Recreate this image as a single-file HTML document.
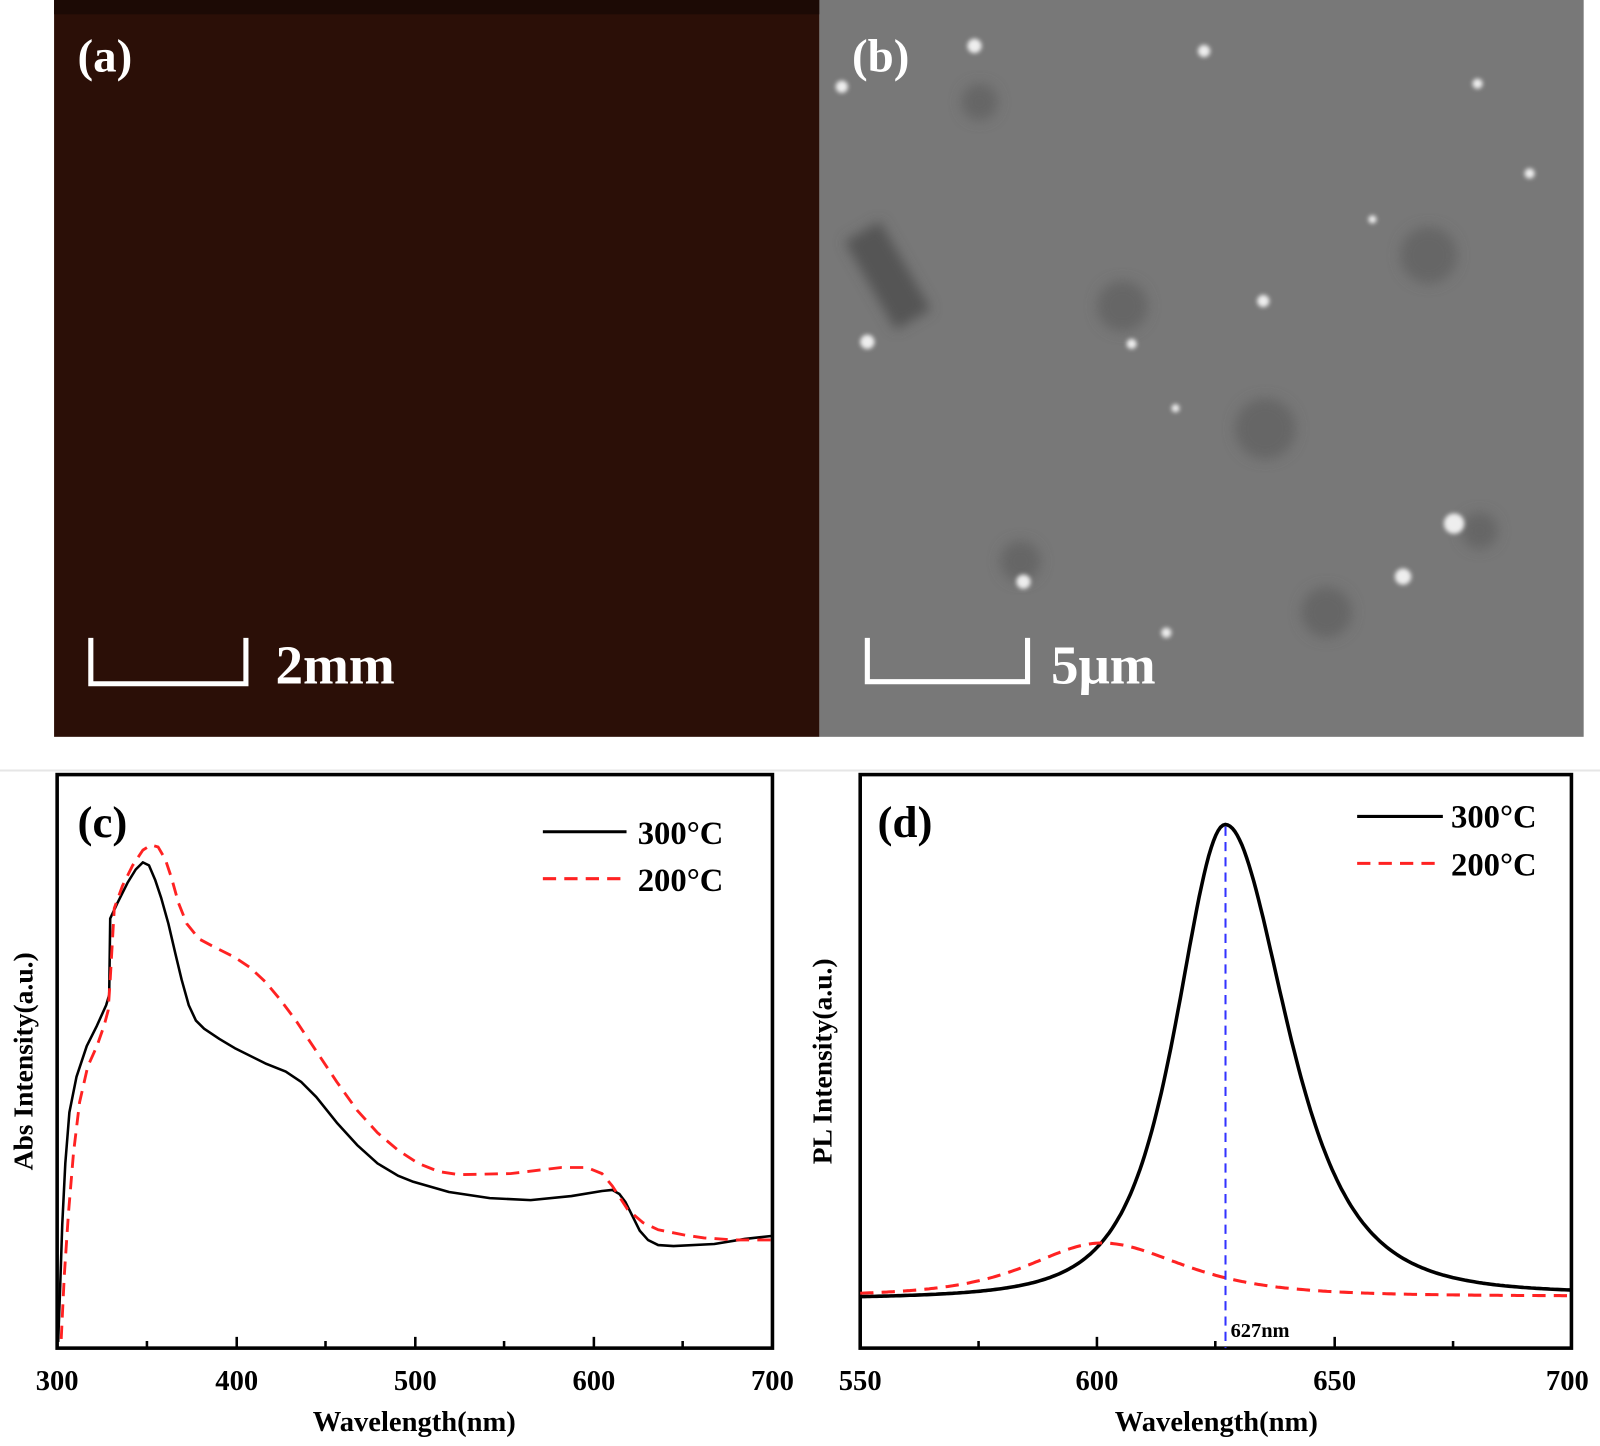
<!DOCTYPE html>
<html><head><meta charset="utf-8"><style>
body{margin:0;background:#fff;width:1600px;height:1441px;overflow:hidden}
svg text{font-family:"Liberation Serif",serif;font-weight:bold}
</style></head><body>
<svg width="1600" height="1441" viewBox="0 0 1568 1412" preserveAspectRatio="none" xmlns="http://www.w3.org/2000/svg">
<defs>
<filter id="bl"><feGaussianBlur stdDeviation="2"/></filter>
<filter id="bl6"><feGaussianBlur stdDeviation="6"/></filter>
</defs>
<rect x="53" y="0" width="750" height="722" fill="#2b0f07"/>
<rect x="53" y="0" width="750" height="14" fill="#1c0a05"/>
<rect x="803" y="0" width="749" height="722" fill="#787878"/>
<g filter="url(#bl6)" fill="#666">
<circle cx="960" cy="100" r="18"/><circle cx="1000" cy="550" r="20"/><circle cx="1240" cy="420" r="30"/><circle cx="1100" cy="300" r="25"/><circle cx="1400" cy="250" r="28"/><circle cx="1450" cy="520" r="18"/><circle cx="1300" cy="600" r="25"/>
<rect x="850" y="220" width="40" height="100" transform="rotate(-30 870 270)" fill="#555"/>
</g>
<g filter="url(#bl)" fill="#eee">
<circle cx="955" cy="45" r="7"/><circle cx="825" cy="85" r="6"/><circle cx="1180" cy="50" r="6"/><circle cx="1238" cy="295" r="6"/><circle cx="850" cy="335" r="7"/><circle cx="1109" cy="337" r="5"/><circle cx="1375" cy="565" r="8"/><circle cx="1425" cy="513" r="10"/><circle cx="1003" cy="570" r="7"/><circle cx="1143" cy="620" r="5"/><circle cx="1448" cy="82" r="5"/><circle cx="1499" cy="170" r="5"/><circle cx="1152" cy="400" r="4"/><circle cx="1345" cy="215" r="4"/>
</g>
<g fill="#fff">
<text x="76" y="70" font-size="46">(a)</text>
<text x="835" y="70" font-size="46">(b)</text>
<text x="270" y="670" font-size="54">2mm</text>
<text x="1030" y="670" font-size="54">5μm</text>
</g>
<path d="M89 625V670H241V625M850 625V668H1007V625" fill="none" stroke="#fff" stroke-width="5"/>
<line x1="0" y1="755" x2="1600" y2="755" stroke="#e6e6e6" stroke-width="2"/>

<rect x="56" y="759" width="701" height="562" fill="none" stroke="#000" stroke-width="3.5"/>
<rect x="843" y="759" width="697" height="562" fill="none" stroke="#000" stroke-width="3.5"/>
<g stroke="#000" stroke-width="2.5">
<path d="M144 1321v-7M232 1321v-11M319 1321v-7M407 1321v-11M494 1321v-7M582 1321v-11M669 1321v-7"/>
<path d="M959 1321v-7M1075 1321v-11M1191 1321v-7M1308 1321v-11M1424 1321v-7"/>
</g>
<g font-size="28" text-anchor="middle" fill="#000">
<text x="56" y="1362">300</text><text x="232" y="1362">400</text><text x="407" y="1362">500</text><text x="582" y="1362">600</text><text x="757" y="1362">700</text>
<text x="843" y="1362">550</text><text x="1075" y="1362">600</text><text x="1308" y="1362">650</text><text x="1536" y="1362">700</text>
<text x="406" y="1402" font-size="28">Wavelength(nm)</text>
<text x="1192" y="1402" font-size="28">Wavelength(nm)</text>
<text transform="translate(32 1040) rotate(-90)" font-size="27">Abs Intensity(a.u.)</text>
<text transform="translate(815 1040) rotate(-90)" font-size="27">PL Intensity(a.u.)</text>
</g>
<g font-size="44" fill="#000"><text x="76" y="820">(c)</text><text x="860" y="820">(d)</text></g>
<g font-size="32" fill="#000"><text x="625" y="827">300°C</text><text x="625" y="873">200°C</text>
<text x="1422" y="811">300°C</text><text x="1422" y="858">200°C</text></g>
<path d="M532 815H614M1330 800H1414" stroke="#000" stroke-width="3"/>
<path d="M532 861H614M1330 846H1414" stroke="#f22" stroke-width="3" stroke-dasharray="13 8"/>

<polyline fill="none" stroke="#000" stroke-width="2.5" stroke-linejoin="round" points="57,1315 59,1260 61,1200 64,1140 68,1090 75,1055 85,1025 95,1005 104,985 107,975 108,900 115,885 125,865 133,852 140,845 146,848 152,862 158,880 165,905 172,935 178,960 185,985 192,1000 200,1008 215,1018 230,1027 260,1042 280,1050 295,1060 310,1075 330,1100 350,1122 370,1140 390,1152 405,1158 440,1168 480,1174 520,1176 560,1172 590,1167 600,1166 607,1170 613,1178 620,1192 627,1206 635,1215 645,1220 660,1221 700,1219 730,1214 757,1211"/>
<polyline fill="none" stroke="#f22" stroke-width="2.8" stroke-dasharray="13 8" stroke-linejoin="round" points="60,1312 63,1250 67,1190 72,1130 78,1080 86,1045 95,1025 102,1005 106,990 108,960 112,890 120,868 130,848 140,833 148,828 155,830 162,842 168,860 175,885 183,905 195,920 210,928 230,938 245,948 260,962 275,980 290,1000 310,1030 330,1060 350,1088 370,1110 390,1127 410,1140 430,1148 450,1151 500,1150 550,1144 575,1144 590,1150 600,1162 615,1185 630,1198 645,1205 670,1210 690,1213 720,1215 757,1215"/>

<path id="blk" fill="none" stroke="#000" stroke-width="3.5"/>
<path id="red" fill="none" stroke="#f22" stroke-width="3" stroke-dasharray="13 8"/>
<line x1="1201" y1="810" x2="1201" y2="1321" stroke="#33f" stroke-width="2" stroke-dasharray="9 6"/>
<text x="1206" y="1310" font-size="20" fill="#000">627nm</text>
</svg>
<script>
var X=function(n){return 843+(n-550)*697/150};
var P=function(d,a){var u=d/a;return 1/Math.pow(1+u*u,2)};
var b="",r="";
for(var n=550;n<=700;n+=0.5){
 var yb=1272-4*(n-550)/150-462*P(n-627,n<627?18.7:23.3);
 var yr=1270-52*P(n-601,n<601?28:31);
 b+=(n==550?"M":"L")+X(n).toFixed(1)+" "+yb.toFixed(1);
 r+=(n==550?"M":"L")+X(n).toFixed(1)+" "+yr.toFixed(1);
}
document.getElementById("blk").setAttribute("d",b);
document.getElementById("red").setAttribute("d",r);
</script>
</body></html>
